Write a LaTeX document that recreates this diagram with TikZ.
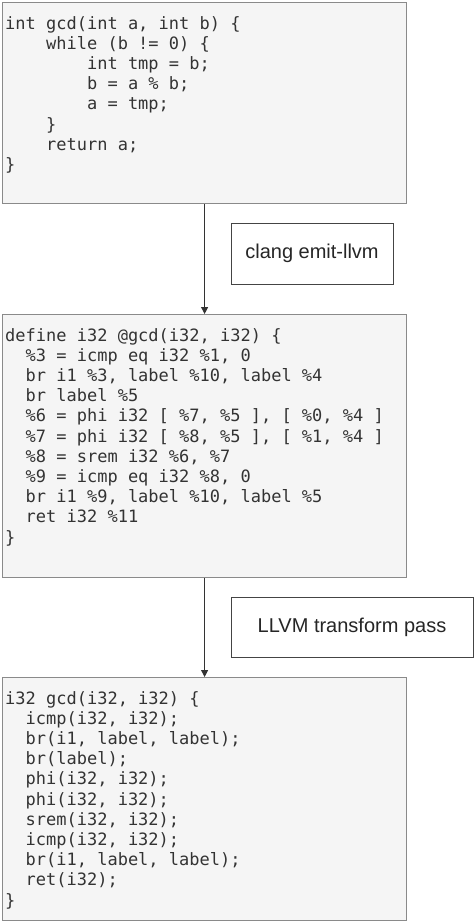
\documentclass[tikz,border=0pt]{standalone}
\usepackage{fontspec}
\setmainfont{Liberation Sans}
\setmonofont{DejaVu Sans Mono}
\usetikzlibrary{arrows.meta}
\definecolor{boxfill}{HTML}{F5F5F5}
\definecolor{boxdraw}{HTML}{8A8A8A}
\definecolor{codecol}{HTML}{333333}
\definecolor{labeldraw}{HTML}{444444}
\newcommand\indtwo{\phantom{xx}}
\newcommand\indfour{\phantom{xxxx}}
\newcommand\indeight{\phantom{xxxxxxxx}}
\newcommand\codefont{\fontsize{17}{20.2}\selectfont\ttfamily\frenchspacing}
\newcommand\fixspaces{\spaceskip=\fontcharwd\font`\x\relax\xspaceskip=\spaceskip}
\begin{document}
\begin{tikzpicture}[x=1pt,y=-1pt,
  codebox/.style={draw=boxdraw, fill=boxfill, line width=1.2pt, minimum width=404pt, inner sep=0pt, anchor=north west},
  codetext/.style={font=\codefont, text=codecol, inner sep=0pt, anchor=base west, text width=400pt, execute at begin node=\fixspaces},
  labelbox/.style={draw=labeldraw, line width=1pt, font=\fontsize{20}{24}\selectfont, text=black!85, inner sep=0pt},
  arr/.style={draw=black!80, line width=1pt, -{Triangle[length=7pt,width=7pt]}}]
\useasboundingbox (0,0) rectangle (474,921);
\fill[white] (0,0) rectangle (474,921);
% boxes
\node[codebox, minimum height=201pt] (b1) at (2,2) {};
\node[codebox, minimum height=263pt] (b2) at (2,314) {};
\node[codebox, minimum height=243pt] (b3) at (2,677) {};
% code
\node[codetext] (t1) at (5,29) {int gcd(int a, int b) \{\\
\indfour while (b != 0) \{\\
\indeight int tmp = b;\\
\indeight b = a \% b;\\
\indeight a = tmp;\\
\indfour \}\\
\indfour return a;\\
\}};
\node[codetext] (t2) at (5,341) {define i32 @gcd(i32, i32) \{\\
\indtwo \%3 = icmp eq i32 \%1, 0\\
\indtwo br i1 \%3, label \%10, label \%4\\
\indtwo br label \%5\\
\indtwo \%6 = phi i32 [ \%7, \%5 ], [ \%0, \%4 ]\\
\indtwo \%7 = phi i32 [ \%8, \%5 ], [ \%1, \%4 ]\\
\indtwo \%8 = srem i32 \%6, \%7\\
\indtwo \%9 = icmp eq i32 \%8, 0\\
\indtwo br i1 \%9, label \%10, label \%5\\
\indtwo ret i32 \%11\\
\}};
\node[codetext] (t3) at (5,704) {i32 gcd(i32, i32) \{\\
\indtwo icmp(i32, i32);\\
\indtwo br(i1, label, label);\\
\indtwo br(label);\\
\indtwo phi(i32, i32);\\
\indtwo phi(i32, i32);\\
\indtwo srem(i32, i32);\\
\indtwo icmp(i32, i32);\\
\indtwo br(i1, label, label);\\
\indtwo ret(i32);\\
\}};
% labels
\node[labelbox, minimum width=162pt, minimum height=61pt] (l1) at (312,253.5) {clang emit-llvm};
\node[labelbox, minimum width=242pt, minimum height=60pt] (l2) at (352,627) {LLVM transform pass};
% arrows
\draw[arr] (b1.south) -- (b2.north);
\draw[arr] (b2.south) -- (b3.north);
\end{tikzpicture}
\end{document}
